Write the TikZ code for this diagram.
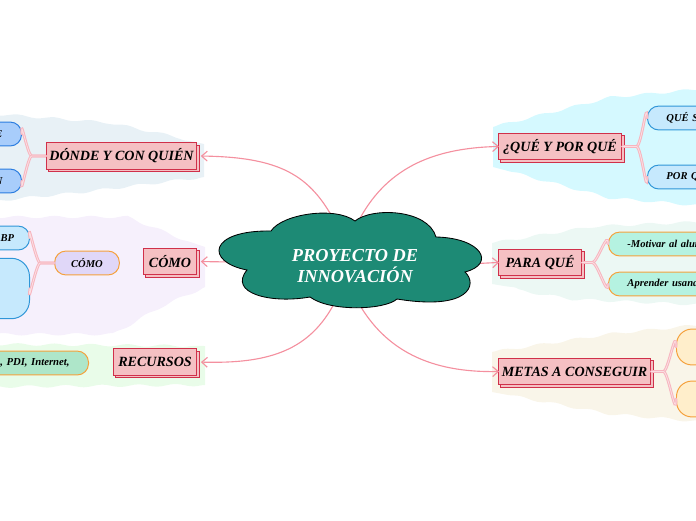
\documentclass[tikz,border=0pt]{standalone}
\usepackage[svgnames]{xcolor}
\usepackage{fontspec}
\setmainfont{Liberation Serif}
\usetikzlibrary{arrows.meta, shadows, snakes}

\definecolor{rootgreen}{HTML}{1D8A75}
\definecolor{boxfill}{HTML}{F5C0C3}
\definecolor{boxline}{HTML}{D0304A}
\definecolor{linkpink}{HTML}{F4909F}
\definecolor{forkpink}{HTML}{F7B5BF}
\definecolor{skyfill}{HTML}{C6E9FD}
\definecolor{skyline}{HTML}{2F96D8}
\definecolor{bluefill}{HTML}{A8CDFB}
\definecolor{blueline}{HTML}{2B7DE0}
\definecolor{lineorange}{HTML}{F5A13C}
\definecolor{lilacfill}{HTML}{E0D7F8}
\definecolor{greenfill}{HTML}{AEE6C9}
\definecolor{mintfill}{HTML}{B5F2E1}
\definecolor{creamfill}{HTML}{FFEECB}
\definecolor{blobdonde}{HTML}{E8F1F6}
\definecolor{blobcomo}{HTML}{F6F0FC}
\definecolor{blobrecursos}{HTML}{E9FCE9}
\definecolor{blobque}{HTML}{D5F9FF}
\definecolor{blobpara}{HTML}{ECF8F4}
\definecolor{blobmetas}{HTML}{F9F5E9}

\tikzset{
    topicbox/.style={
            draw=boxline, fill=boxfill, line width=0.8pt,
            minimum height=19pt, inner xsep=0pt, inner ysep=0pt,
            font=\bfseries\itshape\fontsize{10}{12}\selectfont,
            copy shadow={shadow xshift=1.8pt, shadow yshift=-1.8pt, draw=boxline, fill=boxfill}
        },
    leafbox/.style={
            draw=#1, line width=0.7pt, rounded corners=8pt,
            minimum height=17pt, inner ysep=0pt, inner xsep=13.5pt,
            text width=80pt, font=\bfseries\itshape\fontsize{7.5}{9}\selectfont
        },
    blob/.style={
            fill=#1,
            decoration={snake, amplitude=0.9pt, segment length=26pt}
        },
    link/.style={
            draw=linkpink, line width=0.8pt,
            -{Straight Barb[length=4pt, width=7pt]}
        },
    fork/.style={
            draw=forkpink, line width=0.7pt, line cap=round,
            double=forkpink!45, double distance=0.6pt
        }
}

\begin{document}
\begin{tikzpicture}[x=0.025cm, y=-0.025cm]
    \useasboundingbox (0,0) rectangle (696,520);
    \clip (0,0) rectangle (696,520);

    % soft backgrounds
    \path[blob=blobdonde] (-30,112) decorate {--(100,122)--(204,144)} -- (204,177) decorate {--(100,190)--(-30,203)} -- cycle;
    \path[blob=blobcomo] (-30,217) decorate {--(125,217)--(170,235)--(205,247)} -- (205,287) decorate {--(165,305)--(125,328)--(-30,328)} -- cycle;
    \path[blob=blobrecursos] (-30,344) decorate {--(205,346)} -- (205,385) decorate {--(-30,387)} -- cycle;
    \path[blob=blobque] (493,127) decorate {--(600,100)--(730,88)} -- (730,208) decorate {--(610,198)--(493,167)} -- cycle;
    \path[blob=blobpara] (492,243) decorate {--(590,227)--(730,221)} -- (730,306) decorate {--(590,300)--(492,284)} -- cycle;
    \path[blob=blobmetas] (492,352) decorate {--(610,334)--(730,322)} -- (730,424) decorate {--(610,414)--(492,392)} -- cycle;

    % cloud ends of the links
    \coordinate (rootnw) at (335,222);
    \coordinate (rootw) at (232,262);
    \coordinate (rootsw) at (335,302);
    \coordinate (rootne) at (358,222);
    \coordinate (roote) at (468,264);
    \coordinate (rootse) at (358,302);

    % main topics
    \node[topicbox, minimum width=107pt] (donde) at (121.5,156) {DÓNDE Y CON QUIÉN};
    \node[topicbox, minimum width=38pt] (como) at (170,261.5) {CÓMO};
    \node[topicbox, minimum width=59.5pt] (recursos) at (155,362) {RECURSOS};
    \node[topicbox, minimum width=88pt] (que) at (560,146.5) {¿QUÉ Y POR QUÉ};
    \node[topicbox, minimum width=59.5pt] (para) at (540,262.5) {PARA QUÉ};
    \node[topicbox, minimum width=108.5pt] (metas) at (574.5,371.5) {METAS A CONSEGUIR};

    % links
    \draw[link, shorten >=2.5pt] (rootnw) .. controls (310,175) and (280,157) .. (donde.east);
    \draw[link, shorten >=2.5pt] (rootw) -- (como.east);
    \draw[link, shorten >=2.5pt] (rootsw) .. controls (310,350) and (270,364) .. (recursos.east);
    \draw[link, shorten >=-1pt] (rootne) .. controls (385,170) and (430,148) .. (que.west);
    \draw[link, shorten >=-1pt] (roote) -- (para.west);
    \draw[link, shorten >=-1pt] (rootse) .. controls (385,350) and (430,373) .. (metas.west);

    % cloud
    \draw[fill=rootgreen, draw=black, line width=0.6pt]
        (271,231) .. controls (282,214) and (335,206) .. (355,221)
        .. controls (372,207) and (428,209) .. (436,237)
        .. controls (482,238) and (496,264) .. (465,272)
        .. controls (478,284) and (470,311) .. (397,299)
        .. controls (385,310) and (330,312) .. (310,297)
        .. controls (270,304) and (228,293) .. (247,270)
        .. controls (205,262) and (208,230) .. (271,231) -- cycle;
    \node[text=white, align=center, font=\bfseries\itshape\fontsize{13}{15.5}\selectfont] (root) at (355,266) {PROYECTO DE\\INNOVACIÓN};

    % leaves on the left
    \node[leafbox=blueline, fill=bluefill, align=right, anchor=east] (e) at (22,134) {E};
    \node[leafbox=blueline, fill=bluefill, align=right, anchor=east] (n) at (22,181) {N};
    \node[leafbox=skyline, fill=skyfill, align=right, anchor=east, inner xsep=11pt] (bp) at (30,238) {BP};
    \node[leafbox=skyline, fill=skyfill, anchor=east, minimum height=43pt, rounded corners=13pt] (big) at (30,288.5) {};
    \node[leafbox=lineorange, fill=lilacfill, anchor=center, text width=30pt, align=center, inner xsep=8pt] (comochild) at (87,263) {CÓMO};
    \node[leafbox=lineorange, fill=greenfill, align=right, anchor=east, font=\bfseries\itshape\fontsize{7.6}{9}\selectfont, text width=110pt] (pdi) at (89,363) {, PDI, Internet,};

    % leaves on the right
    \node[leafbox=skyline, fill=skyfill, anchor=west] (ques) at (647,118) {QUÉ S};
    \node[leafbox=skyline, fill=skyfill, anchor=west] (porq) at (647,177) {POR Q};
    \node[leafbox=lineorange, fill=mintfill, anchor=west, text width=100pt] (motivar) at (608,244) {-Motivar al alum};
    \node[leafbox=lineorange, fill=mintfill, anchor=west, text width=100pt] (aprender) at (608,284) {Aprender usando};
    \node[leafbox=lineorange, fill=creamfill, anchor=west, minimum height=25.5pt, rounded corners=11pt] (metaa) at (676,347) {};
    \node[leafbox=lineorange, fill=creamfill, anchor=west, minimum height=25.5pt, rounded corners=11pt] (metab) at (676,399) {};

    % forks
    \draw[fork] (donde.west) -- ++(-14,0) .. controls ++(-4,0) and ++(-2,-20) .. (e.east);
    \draw[fork] (donde.west) -- ++(-14,0) .. controls ++(-4,0) and ++(-2,20) .. (n.east);
    \draw[fork] (comochild.west) -- ++(-14,0) .. controls ++(-4,0) and ++(-3,-22) .. (bp.east);
    \draw[fork] (comochild.west) -- ++(-14,0) .. controls ++(-4,0) and ++(-3,22) .. (big.east);
    \draw[fork] (que.east) -- ++(14,0) .. controls ++(5,0) and ++(0,-22) .. (ques.west);
    \draw[fork] (que.east) -- ++(14,0) .. controls ++(5,0) and ++(0,22) .. (porq.west);
    \draw[fork] (para.east) -- ++(10,0) .. controls ++(5,0) and ++(0,-15) .. (motivar.west);
    \draw[fork] (para.east) -- ++(10,0) .. controls ++(5,0) and ++(0,15) .. (aprender.west);
    \draw[fork] (metas.east) -- ++(12,0) .. controls ++(5,0) and ++(0,-22) .. (metaa.west);
    \draw[fork] (metas.east) -- ++(12,0) .. controls ++(5,0) and ++(0,22) .. (metab.west);

\end{tikzpicture}
\end{document}
